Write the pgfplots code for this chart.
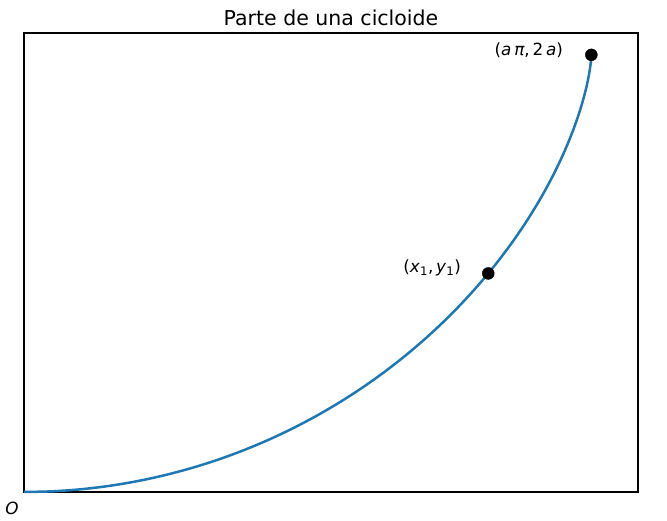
\documentclass[border=0pt]{standalone}
\usepackage{fontspec}
\setmainfont{DejaVu Sans}
\usepackage{pgfplots}
\pgfplotsset{compat=1.18}
\definecolor{mplblue}{HTML}{1F77B4}
\newcommand{\lblfont}{\fontsize{16.8}{20}\selectfont}
\begin{document}
\begin{tikzpicture}
\path[use as bounding box] (-24pt,-29pt) rectangle (643pt,492pt);
\begin{axis}[
  at={(0pt,0pt)}, anchor=south west,
  width=614pt, height=459pt, scale only axis,
  xmin=0, xmax=3.4, ymin=0, ymax=2.1,
  xtick=\empty, ytick=\empty,
  axis line style={line width=1.35pt},
  clip=false,
  title={Parte de una cicloide},
  title style={at={(0.5,1)}, anchor=base, yshift=1pt,
    font=\fontsize{20.5}{24}\selectfont},
]
\addplot[mplblue, line width=2.5pt, smooth] coordinates {
(0,0) (0.15700,0.00308) (0.31351,0.01231) (0.46907,0.02763) (0.62318,0.04894)
(0.77538,0.07612) (0.92523,0.10899) (1.07228,0.14736) (1.21611,0.19098)
(1.35631,0.23959) (1.49251,0.29289) (1.62435,0.35055) (1.75150,0.41221)
(1.87366,0.47750) (1.99057,0.54601) (2.10198,0.61732) (2.20770,0.69098)
(2.30755,0.76655) (2.40141,0.84357) (2.48918,0.92154) (2.57080,1.00000)
(2.64626,1.07846) (2.71557,1.15643) (2.77879,1.23345) (2.83602,1.30902)
(2.88738,1.38268) (2.93305,1.45399) (2.97322,1.52250) (3.00813,1.58779)
(3.03806,1.64945) (3.06330,1.70711) (3.08418,1.76041) (3.10106,1.80902)
(3.11431,1.85264) (3.12434,1.89101) (3.13157,1.92388) (3.13645,1.95106)
(3.13942,1.97237) (3.14094,1.98769) (3.14151,1.99692) (3.14159,2.00000)
};
\addplot[only marks, mark=*, mark size=6pt, black] coordinates {
(3.14159,2) (2.57080,1)
};
\node[anchor=east, inner sep=0pt, font=\lblfont] at (axis cs:2.985,2.022)
  {(\textit{a}\,\textit{π},\,2\,\textit{a})};
\node[anchor=east, inner sep=0pt, font=\lblfont] at (axis cs:2.420,1.025)
  {(\textit{x}\textsubscript{1},\,\textit{y}\textsubscript{1})};
\node[inner sep=0pt, font=\lblfont] at (axis cs:-0.066,-0.073) {\textit{O}};
\end{axis}
\end{tikzpicture}
\end{document}
